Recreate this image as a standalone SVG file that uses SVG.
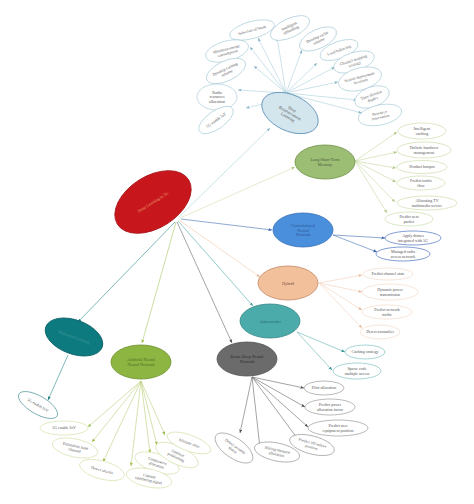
<svg xmlns="http://www.w3.org/2000/svg" width="474" height="504" viewBox="0 0 474 504">
<style>
text{font-family:"Liberation Serif","DejaVu Serif",serif;font-size:4px;fill:#555;text-anchor:middle}
.n text{font-size:4.2px}
.c line{stroke-width:0.6;fill:none}
.lb ellipse{fill:#fff;stroke:#9fc5d3;stroke-width:0.6}
.lg ellipse{fill:#fff;stroke:#c5d7a0;stroke-width:0.6}
.lc ellipse{fill:#fff;stroke:#4a72c0;stroke-width:0.7}
.lh ellipse{fill:#fff;stroke:#f2d4c0;stroke-width:0.6}
.la ellipse{fill:#fff;stroke:#6fb9bb;stroke-width:0.6}
.ld ellipse{fill:#fff;stroke:#8a8a8a;stroke-width:0.6}
.lf ellipse{fill:#fff;stroke:#3a8a90;stroke-width:0.6}
.ln ellipse{fill:#fff;stroke:#cfdd9e;stroke-width:0.6}
</style>
<defs>
<marker id="mB" markerUnits="userSpaceOnUse" markerWidth="4" markerHeight="4" refX="3.5" refY="1.5" orient="auto"><path d="M0,0L3.5,1.5L0,3z" fill="#8fb8c8"/></marker>
<marker id="mG" markerUnits="userSpaceOnUse" markerWidth="4" markerHeight="4" refX="3.5" refY="1.5" orient="auto"><path d="M0,0L3.5,1.5L0,3z" fill="#b5c98a"/></marker>
<marker id="mC" markerUnits="userSpaceOnUse" markerWidth="4" markerHeight="4" refX="3.5" refY="1.5" orient="auto"><path d="M0,0L3.5,1.5L0,3z" fill="#3a64b0"/></marker>
<marker id="mH" markerUnits="userSpaceOnUse" markerWidth="4" markerHeight="4" refX="3.5" refY="1.5" orient="auto"><path d="M0,0L3.5,1.5L0,3z" fill="#e8b898"/></marker>
<marker id="mA" markerUnits="userSpaceOnUse" markerWidth="4" markerHeight="4" refX="3.5" refY="1.5" orient="auto"><path d="M0,0L3.5,1.5L0,3z" fill="#3f9c9e"/></marker>
<marker id="mD" markerUnits="userSpaceOnUse" markerWidth="4" markerHeight="4" refX="3.5" refY="1.5" orient="auto"><path d="M0,0L3.5,1.5L0,3z" fill="#555"/></marker>
<marker id="mF" markerUnits="userSpaceOnUse" markerWidth="4" markerHeight="4" refX="3.5" refY="1.5" orient="auto"><path d="M0,0L3.5,1.5L0,3z" fill="#2a7f86"/></marker>
<marker id="mN" markerUnits="userSpaceOnUse" markerWidth="4" markerHeight="4" refX="3.5" refY="1.5" orient="auto"><path d="M0,0L3.5,1.5L0,3z" fill="#9bbf45"/></marker>
</defs>
<rect width="474" height="504" fill="#fff"/>

<g id="connectors" class="c">
<!-- central -->
<line x1="179" y1="217" x2="270" y2="128" stroke="#a9cfdc" marker-end="url(#mB)"/>
<line x1="180" y1="218" x2="295" y2="167" stroke="#d5dcae" marker-end="url(#mG)"/>
<line x1="181" y1="219" x2="272" y2="230" stroke="#3f6fb5" marker-end="url(#mC)"/>
<line x1="179" y1="220" x2="260" y2="277" stroke="#f0c8aa" marker-end="url(#mH)"/>
<line x1="178" y1="221" x2="253" y2="306" stroke="#4aaaaa" marker-end="url(#mA)"/>
<line x1="177" y1="222" x2="232" y2="343" stroke="#666" marker-end="url(#mD)"/>
<line x1="176" y1="222" x2="142" y2="343" stroke="#a8c860" marker-end="url(#mN)"/>
<line x1="175" y1="222" x2="78" y2="322" stroke="#2a8a90" marker-end="url(#mF)"/>
<!-- DRL -->
<line x1="286" y1="93" x2="258" y2="38" stroke="#a9cfdc" marker-end="url(#mB)"/>
<line x1="286" y1="93" x2="277" y2="37" stroke="#a9cfdc" marker-end="url(#mB)"/>
<line x1="286" y1="93" x2="302" y2="50" stroke="#a9cfdc" marker-end="url(#mB)"/>
<line x1="286" y1="93" x2="317" y2="63" stroke="#a9cfdc" marker-end="url(#mB)"/>
<line x1="286" y1="93" x2="335" y2="67" stroke="#a9cfdc" marker-end="url(#mB)"/>
<line x1="286" y1="93" x2="338" y2="82" stroke="#a9cfdc" marker-end="url(#mB)"/>
<line x1="286" y1="93" x2="357" y2="100" stroke="#a9cfdc" marker-end="url(#mB)"/>
<line x1="286" y1="93" x2="362" y2="113" stroke="#a9cfdc" marker-end="url(#mB)"/>
<line x1="286" y1="93" x2="250" y2="47" stroke="#a9cfdc" marker-end="url(#mB)"/>
<line x1="286" y1="93" x2="254" y2="66" stroke="#a9cfdc" marker-end="url(#mB)"/>
<line x1="286" y1="93" x2="238" y2="90" stroke="#a9cfdc" marker-end="url(#mB)"/>
<line x1="263" y1="104" x2="246" y2="108" stroke="#a9cfdc" marker-end="url(#mB)"/>
<!-- LSTM -->
<line x1="355" y1="161" x2="397" y2="132" stroke="#c5d7a0" marker-end="url(#mG)"/>
<line x1="355" y1="161" x2="397" y2="152" stroke="#c5d7a0" marker-end="url(#mG)"/>
<line x1="355" y1="161" x2="396" y2="168" stroke="#c5d7a0" marker-end="url(#mG)"/>
<line x1="355" y1="161" x2="396" y2="182" stroke="#c5d7a0" marker-end="url(#mG)"/>
<line x1="355" y1="161" x2="395" y2="202" stroke="#c5d7a0" marker-end="url(#mG)"/>
<line x1="355" y1="161" x2="387" y2="213" stroke="#c5d7a0" marker-end="url(#mG)"/>
<!-- CNN -->
<line x1="333" y1="235" x2="385" y2="238" stroke="#3f6fb5" marker-end="url(#mC)"/>
<line x1="333" y1="235" x2="377" y2="252" stroke="#3f6fb5" marker-end="url(#mC)"/>
<!-- Hybrid -->
<line x1="319" y1="283" x2="362" y2="275" stroke="#f2d0b8" marker-end="url(#mH)"/>
<line x1="319" y1="283" x2="362" y2="292" stroke="#f2d0b8" marker-end="url(#mH)"/>
<line x1="319" y1="283" x2="362" y2="310" stroke="#f2d0b8" marker-end="url(#mH)"/>
<line x1="319" y1="283" x2="362" y2="328" stroke="#f2d0b8" marker-end="url(#mH)"/>
<!-- Autoencoder -->
<line x1="297" y1="332" x2="345" y2="352" stroke="#5fb3b4" marker-end="url(#mA)"/>
<line x1="297" y1="332" x2="332" y2="370" stroke="#5fb3b4" marker-end="url(#mA)"/>
<!-- DNN -->
<line x1="252" y1="377" x2="304" y2="388" stroke="#666" marker-end="url(#mD)"/>
<line x1="252" y1="377" x2="305" y2="407" stroke="#666" marker-end="url(#mD)"/>
<line x1="252" y1="377" x2="308" y2="427" stroke="#666" marker-end="url(#mD)"/>
<line x1="252" y1="377" x2="297" y2="438" stroke="#666" marker-end="url(#mD)"/>
<line x1="252" y1="377" x2="260" y2="448" stroke="#666" marker-end="url(#mD)"/>
<line x1="252" y1="377" x2="240" y2="433" stroke="#666" marker-end="url(#mD)"/>
<!-- Federated -->
<line x1="68" y1="355" x2="48" y2="400" stroke="#2a8a90" marker-end="url(#mF)"/>
<!-- ANN -->
<line x1="141" y1="381" x2="88" y2="427" stroke="#b8cf7a" marker-end="url(#mN)"/>
<line x1="141" y1="381" x2="92" y2="442" stroke="#b8cf7a" marker-end="url(#mN)"/>
<line x1="141" y1="381" x2="103" y2="462" stroke="#b8cf7a" marker-end="url(#mN)"/>
<line x1="141" y1="381" x2="131" y2="466" stroke="#b8cf7a" marker-end="url(#mN)"/>
<line x1="141" y1="381" x2="150" y2="453" stroke="#b8cf7a" marker-end="url(#mN)"/>
<line x1="141" y1="381" x2="157" y2="445" stroke="#b8cf7a" marker-end="url(#mN)"/>
<line x1="141" y1="381" x2="165" y2="435" stroke="#b8cf7a" marker-end="url(#mN)"/>
</g>

<!-- main nodes -->
<g id="n-central" class="n" transform="translate(153,202) rotate(-32)">
<ellipse rx="42" ry="26" fill="#c8161d" stroke="#a81218" stroke-width="0.8"/>
<text y="1.5" style="fill:#e8a070">Deep Learning in 5G</text>
</g>
<g id="n-drl" class="n" transform="translate(290,113) rotate(25)">
<ellipse rx="30" ry="18" fill="#d3e6ee" stroke="#5a8fb5" stroke-width="0.8"/>
<text transform="rotate(5)"><tspan x="0" y="-3">Deep</tspan><tspan x="0" y="1.5">Reinforcement</tspan><tspan x="0" y="6">Learning</tspan></text>
</g>
<g id="n-lstm" class="n" transform="translate(325,162)">
<ellipse rx="30" ry="17" fill="#9cbd74" stroke="#6e9048" stroke-width="0.8"/>
<text style="fill:#4a5a3a"><tspan x="0" y="-0.8">Long Short-Term</tspan><tspan x="0" y="3.8">Memory</tspan></text>
</g>
<g id="n-cnn" class="n" transform="translate(303,230)">
<ellipse rx="30" ry="17" fill="#4a8fdc" stroke="#3a70b8" stroke-width="0.8"/>
<text style="fill:#2a5590"><tspan x="0" y="-3">Convolutional</tspan><tspan x="0" y="1.5">Neural</tspan><tspan x="0" y="6">Network</tspan></text>
</g>
<g id="n-hybrid" class="n" transform="translate(288,283)">
<ellipse rx="30" ry="17" fill="#f2c09a" stroke="#c08a68" stroke-width="0.8"/>
<text y="1.5" style="fill:#6a4a3a">Hybrid</text>
</g>
<g id="n-ae" class="n" transform="translate(270,321)">
<ellipse rx="30" ry="17" fill="#4aabaa" stroke="#3a8888" stroke-width="0.8"/>
<text y="1.5" style="fill:#2a6a6a">Autoencoder</text>
</g>
<g id="n-dnn" class="n" transform="translate(247,359)">
<ellipse rx="30" ry="17" fill="#6b6b6b" stroke="#555" stroke-width="0.8"/>
<text style="fill:#2a2a2a"><tspan x="0" y="-0.8">Dense Deep Neural</tspan><tspan x="0" y="3.8">Network</tspan></text>
</g>
<g id="n-fed" class="n" transform="translate(74,337) rotate(20)">
<ellipse rx="30" ry="17" fill="#0d7a80" stroke="#0a6064" stroke-width="0.8"/>
<text y="1.5" style="fill:#4a9a9a">Federated Learning</text>
</g>
<g id="n-ann" class="n" transform="translate(141,362)">
<ellipse rx="30" ry="17" fill="#8db541" stroke="#6e9030" stroke-width="0.8"/>
<text style="fill:#4a6a2a"><tspan x="0" y="-0.8">Artificial Neural</tspan><tspan x="0" y="3.8">Neural Network</tspan></text>
</g>

<!-- DRL leaves -->
<g class="lb">
<g id="l-beam" transform="translate(252,30) rotate(-15)"><ellipse rx="23" ry="8.5"/><text y="1.4">Selection of beam</text></g>
<g id="l-offload" transform="translate(290,28) rotate(-25)"><ellipse rx="21" ry="9.5"/><text><tspan x="0" y="-0.8">Intelligent</tspan><tspan x="0" y="3.6">offloading</tspan></text></g>
<g id="l-cache" transform="translate(318,39) rotate(-25)"><ellipse rx="20" ry="9.5"/><text><tspan x="0" y="-0.8">Develop cache</tspan><tspan x="0" y="3.6">scheme</tspan></text></g>
<g id="l-load" transform="translate(339,50) rotate(-20)"><ellipse rx="20" ry="8.5"/><text y="1.4">Load balancing</text></g>
<g id="l-chmap" transform="translate(354,62) rotate(-18)"><ellipse rx="21" ry="9.5"/><text><tspan x="0" y="-0.8">Channel mapping</tspan><tspan x="0" y="3.6">strategy</tspan></text></g>
<g id="l-station" transform="translate(360,79) rotate(-15)"><ellipse rx="22" ry="11"/><text><tspan x="0" y="-0.8">Station deployment</tspan><tspan x="0" y="3.6">locations</tspan></text></g>
<g id="l-tdd" transform="translate(372,97) rotate(-20)"><ellipse rx="18" ry="10"/><text><tspan x="0" y="-0.8">Time division</tspan><tspan x="0" y="3.6">duplex</tspan></text></g>
<g id="l-resv" transform="translate(380,115) rotate(-12)"><ellipse rx="22" ry="10"/><text><tspan x="0" y="-0.8">Resource</tspan><tspan x="0" y="3.6">reservation</tspan></text></g>
<g id="l-energy" transform="translate(227,51) rotate(-15)"><ellipse rx="22" ry="10"/><text><tspan x="0" y="-0.8">Minimize energy</tspan><tspan x="0" y="3.6">consumption</tspan></text></g>
<g id="l-caching" transform="translate(226,71) rotate(-25)"><ellipse rx="21" ry="10"/><text><tspan x="0" y="-0.8">Develop caching</tspan><tspan x="0" y="3.6">scheme</tspan></text></g>
<g id="l-radio" transform="translate(217,97)"><ellipse rx="20" ry="13"/><text><tspan x="0" y="-3">Radio</tspan><tspan x="0" y="1.4">resources</tspan><tspan x="0" y="5.8">allocation</tspan></text></g>
<g id="l-iot1" transform="translate(216,120) rotate(-35)"><ellipse rx="20" ry="9"/><text y="1.4">5G enable IoT</text></g>
</g>

<!-- LSTM leaves -->
<g class="lg">
<g id="l-icache" transform="translate(422,131)"><ellipse rx="24" ry="8"/><text><tspan x="0" y="-0.8">Intelligent</tspan><tspan x="0" y="3.6">caching</tspan></text></g>
<g id="l-handover" transform="translate(424,150)"><ellipse rx="27" ry="8"/><text><tspan x="0" y="-0.8">Holistic handover</tspan><tspan x="0" y="3.6">management</tspan></text></g>
<g id="l-hotspot" transform="translate(422,167)"><ellipse rx="25" ry="6.5"/><text y="1.4">Product hotspot</text></g>
<g id="l-traffic" transform="translate(421,183)"><ellipse rx="24" ry="7"/><text><tspan x="0" y="-0.8">Predict traffic</tspan><tspan x="0" y="3.6">flow</tspan></text></g>
<g id="l-tv" transform="translate(427,203)"><ellipse rx="30" ry="7"/><text><tspan x="0" y="-0.8">Allocating TV</tspan><tspan x="0" y="3.6">multimedia service</tspan></text></g>
<g id="l-packet" transform="translate(409,219)"><ellipse rx="24" ry="7"/><text><tspan x="0" y="-0.8">Predict next</tspan><tspan x="0" y="3.6">packet</tspan></text></g>
</g>

<!-- CNN leaves -->
<g class="lc">
<g id="l-drones" transform="translate(413,238)"><ellipse rx="28" ry="7"/><text><tspan x="0" y="-0.8">Apply drones</tspan><tspan x="0" y="3.6">integrated with 5G</tspan></text></g>
<g id="l-ran" transform="translate(403,254)"><ellipse rx="27" ry="7"/><text><tspan x="0" y="-0.8">Managed radio</tspan><tspan x="0" y="3.6">access network</tspan></text></g>
</g>

<!-- Hybrid leaves -->
<g class="lh">
<g id="l-chstate" transform="translate(388,274)"><ellipse rx="25" ry="6"/><text y="1.4">Predict channel state</text></g>
<g id="l-power" transform="translate(390,292)"><ellipse rx="28" ry="8"/><text><tspan x="0" y="-0.8">Dynamic power</tspan><tspan x="0" y="3.6">transmission</tspan></text></g>
<g id="l-nettraffic" transform="translate(387,312)"><ellipse rx="25" ry="7"/><text><tspan x="0" y="-0.8">Predict network</tspan><tspan x="0" y="3.6">traffic</tspan></text></g>
<g id="l-anom" transform="translate(380,332)"><ellipse rx="20" ry="7"/><text y="1.4">Detect anomalies</text></g>
</g>

<!-- Autoencoder leaves -->
<g class="la">
<g id="l-cstrat" transform="translate(365,352)"><ellipse rx="20" ry="7"/><text y="1.4">Caching strategy</text></g>
<g id="l-scma" transform="translate(357,371)"><ellipse rx="24" ry="8"/><text><tspan x="0" y="-0.8">Sparse code</tspan><tspan x="0" y="3.6">multiple access</tspan></text></g>
</g>

<!-- DNN leaves -->
<g class="ld">
<g id="l-pilot" transform="translate(324,388)"><ellipse rx="20" ry="7"/><text y="1.4">Pilot allocation</text></g>
<g id="l-paf" transform="translate(330,407)"><ellipse rx="25" ry="8"/><text><tspan x="0" y="-0.8">Predict power</tspan><tspan x="0" y="3.6">allocation factor</tspan></text></g>
<g id="l-uep" transform="translate(338,428)"><ellipse rx="30" ry="8"/><text><tspan x="0" y="-0.8">Predict user</tspan><tspan x="0" y="3.6">equipment position</tspan></text></g>
<g id="l-3d" transform="translate(312,445) rotate(15)"><ellipse rx="23" ry="9"/><text><tspan x="0" y="-0.8">Predict 3D indoor</tspan><tspan x="0" y="3.6">position</tspan></text></g>
<g id="l-slicing" transform="translate(277,452) rotate(12)"><ellipse rx="23" ry="9"/><text><tspan x="0" y="-0.8">Slicing resource</tspan><tspan x="0" y="3.6">allocation</tspan></text></g>
<g id="l-threat" transform="translate(234,448) rotate(35)"><ellipse rx="22" ry="10"/><text><tspan x="0" y="-0.8">Detect security</tspan><tspan x="0" y="3.6">threat</tspan></text></g>
</g>

<!-- Federated leaf -->
<g class="lf">
<g id="l-iov1" transform="translate(38,405) rotate(30)"><ellipse rx="22" ry="9"/><text y="1.4">5G enable IoV</text></g>
</g>

<!-- ANN leaves -->
<g class="ln">
<g id="l-iov2" transform="translate(64,428)"><ellipse rx="24" ry="7"/><text y="1.4">5G enable IoV</text></g>
<g id="l-est" transform="translate(75,448) rotate(12)"><ellipse rx="23" ry="9"/><text><tspan x="0" y="-0.8">Estimation state</tspan><tspan x="0" y="3.6">channel</tspan></text></g>
<g id="l-attacks" transform="translate(102,470) rotate(15)"><ellipse rx="23" ry="9"/><text y="1.4">Detect attacks</text></g>
<g id="l-coop" transform="translate(157,463) rotate(18)"><ellipse rx="23" ry="9"/><text><tspan x="0" y="-0.8">Cooperative</tspan><tspan x="0" y="3.6">allocation</tspan></text></g>
<g id="l-capture" transform="translate(149,478) rotate(12)"><ellipse rx="23" ry="9"/><text><tspan x="0" y="-0.8">Capture</tspan><tspan x="0" y="3.6">interfering signal</tspan></text></g>
<g id="l-outdoor" transform="translate(177,455) rotate(25)"><ellipse rx="23" ry="9"/><text><tspan x="0" y="-0.8">Outdoor</tspan><tspan x="0" y="3.6">positioning</tspan></text></g>
<g id="l-slice" transform="translate(189,443) rotate(20)"><ellipse rx="23" ry="8"/><text y="1.4">Allocate slice</text></g>
</g>
</svg>
